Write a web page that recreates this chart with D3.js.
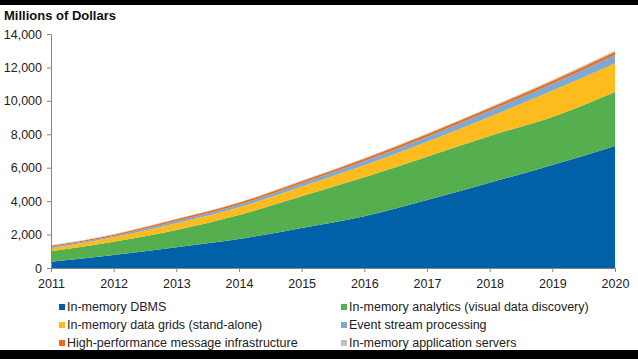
<!DOCTYPE html>
<html><head><meta charset="utf-8">
<script src="https://cdn.jsdelivr.net/npm/d3@7"></script>
<style>
body{margin:0;background:#fff;}
svg{display:block;font-family:Arial,"Liberation Sans",sans-serif;}
</style></head>
<body><svg id="c" width="638" height="359"></svg>
<script>
const years = [2011,2012,2013,2014,2015,2016,2017,2018,2019,2020];
const seriesNames = ["In-memory DBMS","In-memory analytics (visual data discovery)","In-memory data grids (stand-alone)","Event stream processing","High-performance message infrastructure","In-memory application servers"];
const dbms       = [380, 780, 1240, 1735, 2400, 3100, 4070, 5100, 6160, 7300];
const analytics  = [620, 795, 1030, 1435, 1900, 2330, 2590, 2800, 2880, 3230];
const dataGrids  = [180, 260, 400, 460, 570, 720, 890, 1150, 1560, 1720];
const eventStream= [100, 80, 140, 160, 200, 250, 310, 370, 430, 500];
const messaging  = [60, 80, 100, 110, 120, 130, 140, 150, 160, 180];
const appServers = [20, 25, 30, 35, 40, 45, 50, 55, 60, 70];
const yTicks = [0,2000,4000,6000,8000,10000,12000,14000];
const colors = ["#0061A8","#56AF4F","#FDBB1E","#7EA9D2","#EE6A17","#BFBFBF"];

const allSeries=[dbms,analytics,dataGrids,eventStream,messaging,appServers];
const keys=seriesNames;
const table=years.map((y,i)=>{const o={year:y};keys.forEach((k,j)=>o[k]=allSeries[j][i]);return o;});
const stack=d3.stack().keys(keys)(table);

const svg=d3.select("#c");
svg.append("rect").attr("x",0).attr("y",0).attr("width",638).attr("height",5).attr("fill","#000");
svg.append("rect").attr("x",0).attr("y",350).attr("width",638).attr("height",9).attr("fill","#000");

const x=d3.scaleLinear().domain([2011,2020]).range([51,615]);
const y=d3.scaleLinear().domain([0,14000]).range([268,34]);

const area=d3.area().x(d=>x(d.data.year)).y0(d=>y(d[0])).y1(d=>y(d[1])).curve(d3.curveMonotoneX);
svg.append("g").selectAll("path").data(stack).join("path")
  .attr("d",area).attr("fill",(d,i)=>colors[i]);

const ya=svg.append("g").attr("transform","translate(51,0)")
  .call(d3.axisLeft(y).tickValues(yTicks).tickFormat(d3.format(",")).tickSize(4).tickSizeOuter(0));
ya.select(".domain").attr("stroke","#868686");
ya.selectAll(".tick line").attr("stroke","#868686");
ya.selectAll(".tick text").attr("font-size","12.5px").attr("fill","#222").attr("x",-9).attr("font-family","Arial,'Liberation Sans',sans-serif");

const xa=svg.append("g").attr("transform","translate(0,268)")
  .call(d3.axisBottom(x).tickValues(years).tickFormat(d3.format("d")).tickSize(4).tickSizeOuter(0));
xa.select(".domain").attr("stroke","#868686");
xa.selectAll(".tick line").attr("stroke","#868686");
xa.selectAll(".tick text").attr("font-size","12.5px").attr("fill","#222").attr("y",11).attr("font-family","Arial,'Liberation Sans',sans-serif");

svg.append("text").attr("x",4).attr("y",20).attr("font-size","13px").attr("font-weight","bold").attr("fill","#111").text("Millions of Dollars");

const leg=svg.append("g");
seriesNames.forEach((n,i)=>{
  const col=i%2, row=Math.floor(i/2);
  const lx= col===0?59:341, ly=307+row*18;
  leg.append("rect").attr("x",lx).attr("y",ly-3).attr("width",6).attr("height",6).attr("fill",colors[i]);
  leg.append("text").attr("x",lx+8).attr("y",ly).attr("dy","0.35em").attr("font-size","12.5px").attr("fill","#222").text(n);
});
</script></body></html>
